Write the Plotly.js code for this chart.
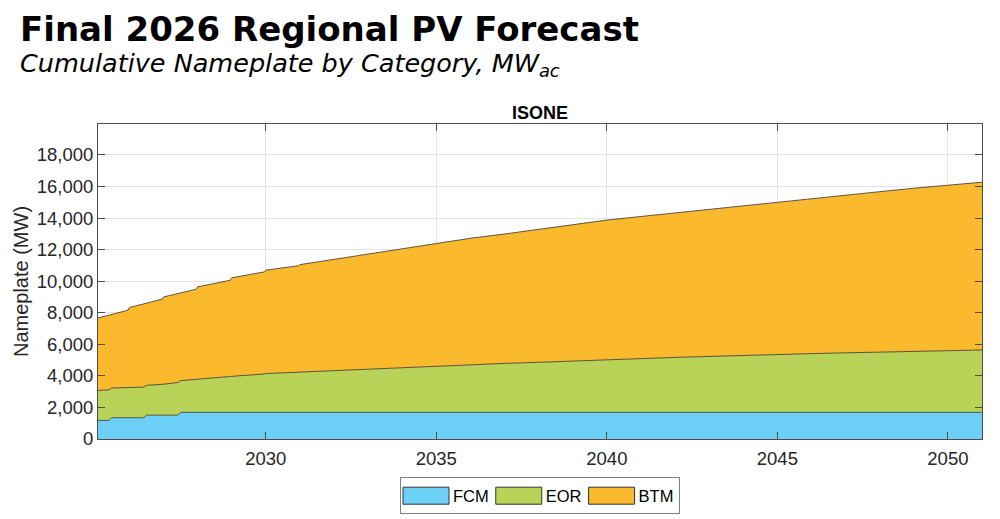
<!DOCTYPE html>
<html>
<head>
<meta charset="utf-8">
<script src="https://cdn.plot.ly/plotly-3.0.1.min.js"></script>
<style>
  html, body { margin: 0; padding: 0; background: #ffffff; }
  #chart { width: 1000px; height: 519px; }
</style>
</head>
<body>
<div id="chart"></div>
<script>
// Time axis in decimal years (paired points around each step)
const years = [
  2025.08, 2025.40, 2025.48, 2025.96, 2026.00, 2026.42, 2026.50, 2026.96, 2027.00,
  2027.42, 2027.50, 2027.96, 2028.00, 2028.96, 2029.00, 2029.96, 2030.00, 2030.96,
  2031, 2032, 2033, 2034, 2035, 2036, 2037, 2038, 2039, 2040, 2041, 2042, 2043,
  2044, 2045, 2046, 2047, 2048, 2049, 2050, 2051
];

// Nameplate by category, MW
const fcm = [
  1180, 1180, 1350, 1350, 1350, 1350, 1510, 1510, 1510,
  1510, 1690, 1690, 1690, 1690, 1690, 1690, 1690, 1690,
  1690, 1690, 1690, 1690, 1690, 1690, 1690, 1690, 1690, 1690, 1690, 1690, 1690,
  1690, 1690, 1690, 1690, 1690, 1690, 1690, 1690
];
const eor = [
  1900, 1930, 1880, 1900, 1910, 1940, 1890, 1950, 1960,
  2070, 2010, 2090, 2100, 2270, 2280, 2430, 2460, 2540,
  2550, 2640, 2740, 2830, 2930, 3020, 3100, 3170, 3250, 3360, 3420, 3480, 3540,
  3610, 3660, 3720, 3770, 3820, 3870, 3910, 3950
];
const btm = [
  4590, 4740, 4670, 4910, 5070, 5270, 5220, 5400, 5530,
  5640, 5580, 5710, 5850, 6100, 6240, 6470, 6550, 6750,
  6810, 7050, 7280, 7510, 7770, 8010, 8200, 8420, 8640, 8820, 8990, 9160, 9320,
  9490, 9670, 9840, 9990, 10160, 10330, 10500, 10630
];

const categories = ['FCM', 'EOR', 'BTM'];
const yTicks = [0, 2000, 4000, 6000, 8000, 10000, 12000, 14000, 16000, 18000];
const xTicks = [2030, 2035, 2040, 2045, 2050];

const colors = { FCM: '#6CCFF6', EOR: '#B9D358', BTM: '#FBB92E' };
const seriesValues = { FCM: fcm, EOR: eor, BTM: btm };

const traces = categories.map(name => ({
  type: 'scatter',
  mode: 'lines',
  name: name,
  x: years,
  y: seriesValues[name],
  stackgroup: 'pv',
  fillcolor: colors[name],
  line: { color: '#333333', width: 0.8 },
  hoverinfo: 'x+y+name'
}));

const sans = 'Liberation Sans, Arial, sans-serif';
const headFont = 'DejaVu Sans, Verdana, sans-serif';
const axisFont = { family: sans, size: 18.5, color: '#262626' };

const layout = {
  width: 1000,
  height: 519,
  paper_bgcolor: '#ffffff',
  plot_bgcolor: '#ffffff',
  margin: { l: 98, r: 18, t: 124, b: 80 },
  showlegend: true,
  annotations: [
    {
      text: '<b>Final 2026 Regional PV Forecast</b>',
      xref: 'paper', yref: 'paper',
      x: -0.0905, xanchor: 'left',
      y: 1.302, yanchor: 'middle',
      showarrow: false,
      font: { family: headFont, size: 34, color: '#000000' }
    },
    {
      text: '<i>Cumulative Nameplate by Category, MW<sub>ac</sub></i>',
      xref: 'paper', yref: 'paper',
      x: -0.0905, xanchor: 'left',
      y: 1.190, yanchor: 'middle',
      showarrow: false,
      font: { family: headFont, size: 25.5, color: '#000000' }
    },
    {
      text: '<b>ISONE</b>',
      xref: 'paper', yref: 'paper',
      x: 0.5, xanchor: 'center',
      y: 1.0349, yanchor: 'middle',
      showarrow: false,
      font: { family: sans, size: 18, color: '#000000' }
    }
  ],
  xaxis: {
    range: [2025.08, 2051],
    tickvals: xTicks,
    ticktext: xTicks.map(String),
    ticks: 'inside', ticklen: 7, tickwidth: 1, tickcolor: '#4d4d4d',
    ticklabelstandoff: 3,
    showline: true, linecolor: '#4d4d4d', linewidth: 1, mirror: 'allticks',
    showgrid: true, gridcolor: '#e4e4e4', gridwidth: 1,
    zeroline: false,
    tickfont: axisFont
  },
  yaxis: {
    range: [0, 19960],
    tickvals: yTicks,
    ticktext: yTicks.map(v => v.toLocaleString('en-US')),
    ticks: 'inside', ticklen: 7, tickwidth: 1, tickcolor: '#4d4d4d',
    showline: true, linecolor: '#4d4d4d', linewidth: 1, mirror: 'allticks',
    showgrid: true, gridcolor: '#e4e4e4', gridwidth: 1,
    zeroline: false,
    tickfont: axisFont,
    title: { text: 'Nameplate (MW)', font: { family: sans, size: 20, color: '#262626' }, standoff: 2 }
  },
  legend: {
    orientation: 'h',
    traceorder: 'normal',
    xref: 'paper', x: 0.5, xanchor: 'center',
    yref: 'container', y: 0.080, yanchor: 'top',
    bordercolor: '#808080', borderwidth: 1,
    bgcolor: '#ffffff',
    font: { family: sans, size: 16.5, color: '#000000' },
    itemwidth: 42
  }
};

Plotly.newPlot('chart', traces, layout, { displayModeBar: false, staticPlot: true }).then(gd => {
  // Legend keys as bordered rectangles
  gd.querySelectorAll('.legend .traces').forEach((g, i) => {
    const name = categories[i];
    const fillPath = g.querySelector('.legendfill path');
    if (fillPath) {
      fillPath.setAttribute('d', 'M2,-8.5h46v17h-46z');
      fillPath.style.fill = colors[name];
      fillPath.style.stroke = '#333333';
      fillPath.style.strokeWidth = '1px';
    }
    const linePath = g.querySelector('.legendlines path');
    if (linePath) linePath.style.display = 'none';
  });
});
</script>
</body>
</html>
